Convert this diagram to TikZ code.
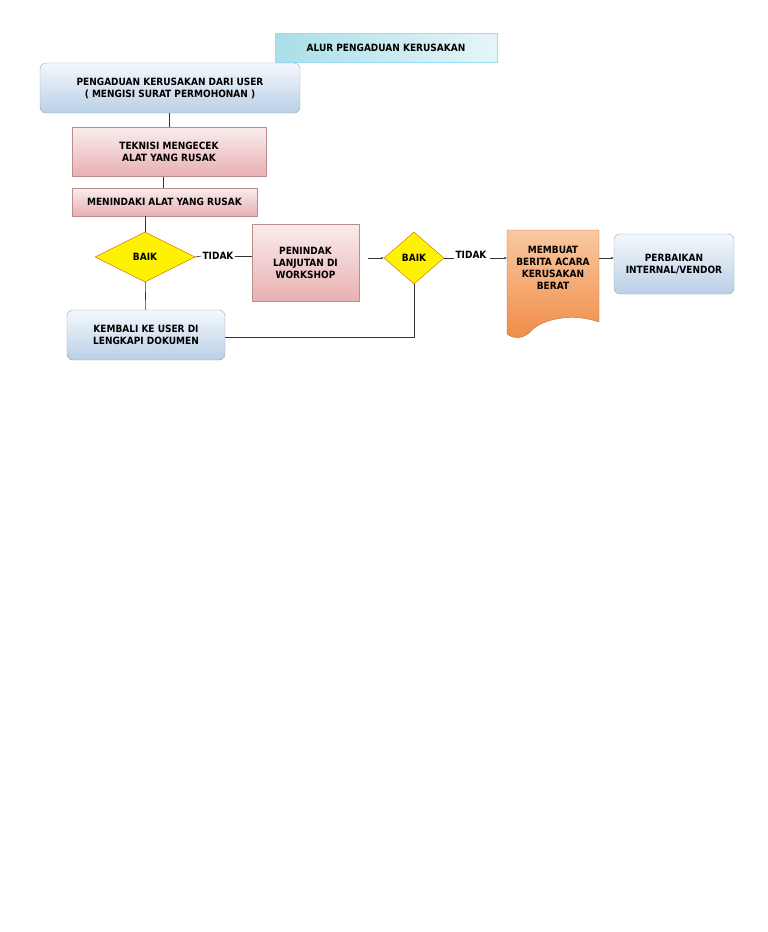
\documentclass[tikz,border=0pt]{standalone}
\usepackage{fontspec}
\setmainfont{DejaVu Sans Condensed}
\usetikzlibrary{shapes.geometric,arrows.meta}
\definecolor{bluetop}{RGB}{244,248,252}
\definecolor{bluebot}{RGB}{186,207,230}
\definecolor{pinktop}{RGB}{250,236,236}
\definecolor{pinkbot}{RGB}{232,176,178}
\definecolor{cyantop}{RGB}{170,222,232}
\definecolor{orangetop}{RGB}{250,200,160}
\definecolor{orangebot}{RGB}{240,140,70}
\tikzset{
  txt/.style={font=\bfseries\fontsize{10}{12}\selectfont, align=center},
  bluebox/.style={txt, draw=bluebot!80!black, rounded corners=6pt, top color=bluetop, bottom color=bluebot},
  pinkbox/.style={txt, draw=pinkbot!80!black, top color=pinktop, bottom color=pinkbot},
  decide/.style={txt, diamond, draw=orange!80!black, fill=yellow, aspect=2, inner sep=0pt},
  link/.style={draw=black!80, line width=0.6pt},
  go/.style={link, -{Stealth[length=3pt]}}
}
\begin{document}
\begin{tikzpicture}[x=1pt,y=-1pt]
\useasboundingbox (0,0) rectangle (768,932);
% header
\node[txt, draw=cyan!40, left color=cyantop, right color=cyantop!30, minimum width=222pt, minimum height=29pt] (title) at (386,48) {ALUR PENGADUAN KERUSAKAN};
% main column
\node[bluebox, minimum width=260pt, minimum height=50pt] (user) at (170,88) {PENGADUAN KERUSAKAN DARI USER\\( MENGISI SURAT PERMOHONAN )};
\node[pinkbox, minimum width=194pt, minimum height=49pt, text width=180pt] (cek) at (169,152) {TEKNISI MENGECEK ALAT YANG RUSAK};
\node[pinkbox, minimum width=185pt, minimum height=28pt] (tindak) at (164.5,202) {MENINDAKI ALAT YANG RUSAK};
\node[decide, minimum width=100pt, minimum height=50pt] (baik1) at (145,257) {BAIK};
\node[bluebox, minimum width=158pt, minimum height=50pt] (kembali) at (146,335) {KEMBALI KE USER DI\\LENGKAPI DOKUMEN};
% right row
\node[pinkbox, minimum width=107pt, minimum height=77pt, anchor=north] (workshop) at (305.5,224) {PENINDAK\\LANJUTAN DI\\WORKSHOP};
\node[decide, minimum width=60pt, minimum height=52pt] (baik2) at (414,258) {BAIK};
\node[txt, inner sep=1pt] (tidak1) at (218,256) {TIDAK};
\node[txt, inner sep=1pt] (tidak2) at (471,255) {TIDAK};
\node[bluebox, minimum width=120pt, minimum height=60pt] (vendor) at (674,264) {PERBAIKAN\\INTERNAL/VENDOR};
% document shape
\path[draw=orangebot!80!black, top color=orangetop, bottom color=orangebot]
  (507,230) -- (599,230) -- (599,322) .. controls (570,312) and (540,320) .. (530,332)
  .. controls (522,340) and (512,338) .. (507,334) -- cycle;
\node[txt, text width=90pt] (berat) at (553,268) {MEMBUAT\\BERITA ACARA\\KERUSAKAN\\BERAT};
\coordinate (a1) at (368,258);
\coordinate (a2) at (490,258);
\coordinate (bend) at (414,337);
% connectors
\draw[link] (user.south -| cek) -- (cek);
\draw[link] (cek.south -| 163,0) -- (163,188);
\draw[link] (tindak.south -| baik1) -- (baik1);
\draw[link] (baik1) -- (kembali);
\draw[link] (baik1.east) -- (tidak1.west);
\draw[link] (tidak1.east) -- (workshop.west |- tidak1.east);
\draw[go] (a1) -- (baik2.west);
\draw[link] (baik2.east) -- (tidak2.west |- baik2.east);
\draw[go] (a2) -- (507,258);
\draw[go] (599,258) -- (vendor.west |- 0,258);
\draw[link] (baik2.south) -- (bend) -- (kembali.east |- bend);
\end{tikzpicture}
\end{document}
